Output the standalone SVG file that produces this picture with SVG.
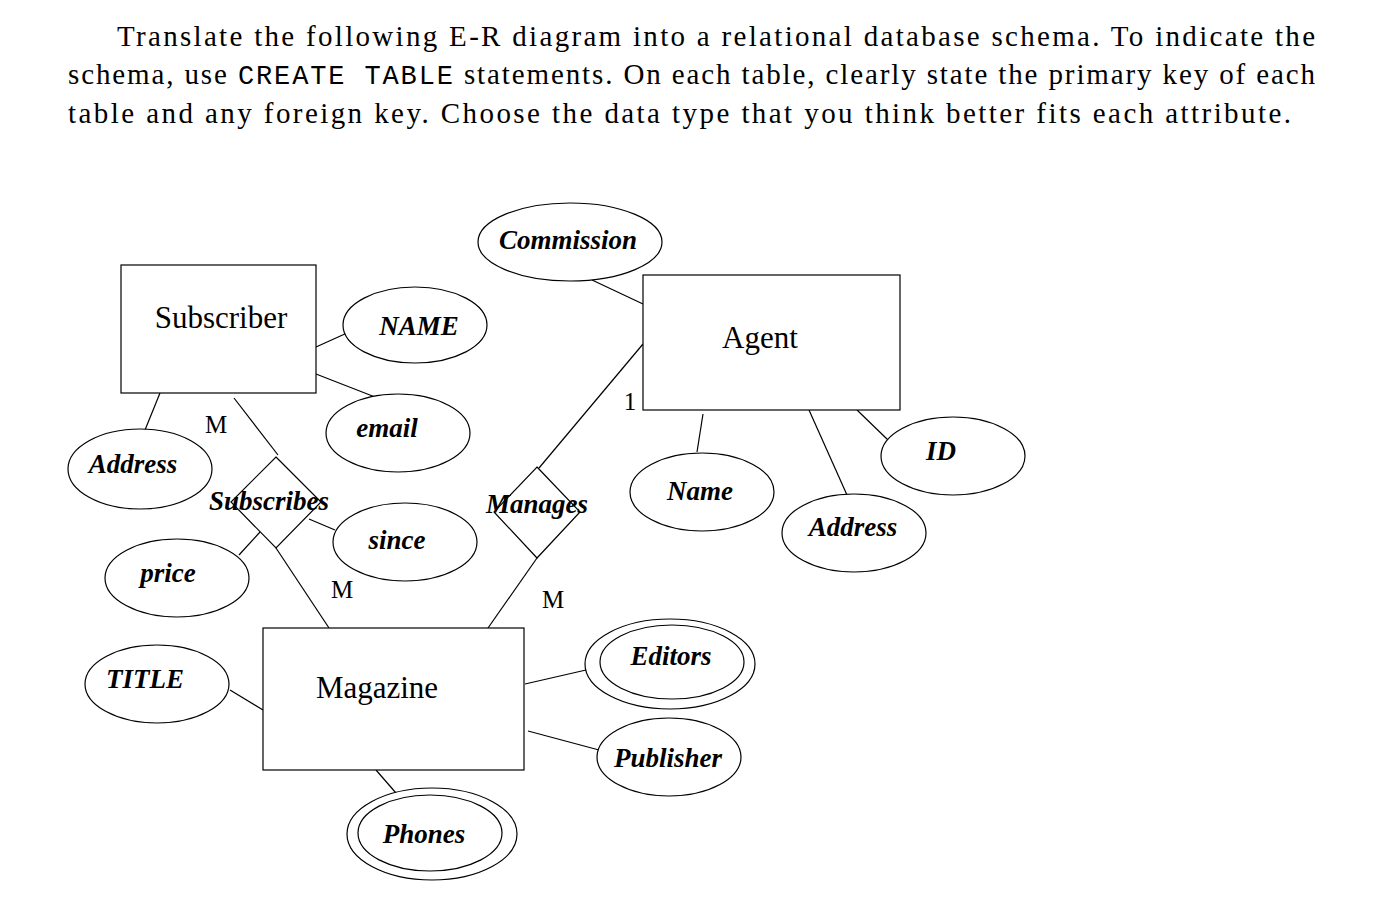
<svg xmlns="http://www.w3.org/2000/svg" width="1374" height="918" viewBox="0 0 1374 918">
<style>
.p{font-family:"Liberation Serif","DejaVu Serif",serif;font-size:29px;fill:#000}
.m{font-family:"Liberation Mono","DejaVu Sans Mono",monospace;font-size:27px}
.e{fill:#fff;stroke:#000;stroke-width:1.2}
.a{font-family:"Liberation Serif",serif;font-size:27px;font-weight:bold;font-style:italic;text-anchor:middle}
.n{font-family:"Liberation Serif",serif;font-size:31px;text-anchor:middle}
.c{font-family:"Liberation Serif",serif;font-size:25px;text-anchor:middle}
#conn line{stroke:#000;stroke-width:1.2}
</style>
<rect width="1374" height="918" fill="#fff"/>
<text class="p" x="117" y="46" textLength="1198" lengthAdjust="spacing">Translate the following E-R diagram into a relational database schema. To indicate the</text>
<text class="p" x="68" y="84" textLength="1247" lengthAdjust="spacing">schema, use <tspan class="m">CREATE TABLE</tspan> statements. On each table, clearly state the primary key of each</text>
<text class="p" x="68" y="123" textLength="1223" lengthAdjust="spacing">table and any foreign key. Choose the data type that you think better fits each attribute.</text>
<g id="conn">
<line x1="316" y1="347" x2="347" y2="333"/>
<line x1="316" y1="374" x2="375" y2="397"/>
<line x1="160" y1="393" x2="145" y2="430"/>
<line x1="234" y1="398" x2="278" y2="455"/>
<line x1="276" y1="548" x2="329" y2="628"/>
<line x1="309" y1="519" x2="335" y2="530"/>
<line x1="260" y1="532" x2="239" y2="555"/>
<line x1="592" y1="280" x2="643" y2="304"/>
<line x1="643" y1="344" x2="539" y2="468"/>
<line x1="537" y1="558" x2="488" y2="628"/>
<line x1="703" y1="414" x2="697" y2="452"/>
<line x1="809" y1="410" x2="847" y2="495"/>
<line x1="857" y1="410" x2="888" y2="440"/>
<line x1="230" y1="690" x2="263" y2="710"/>
<line x1="525" y1="684" x2="586" y2="670"/>
<line x1="528" y1="731" x2="599" y2="750"/>
<line x1="376" y1="770" x2="396" y2="793"/>
<text class="c" x="216" y="433">M</text>
<text class="c" x="342" y="598">M</text>
<text class="c" x="630" y="410">1</text>
<text class="c" x="553" y="608">M</text>
</g>
<g id="subscriber"><rect class="e" x="121" y="265" width="195" height="128"/><text class="n" x="221" y="328">Subscriber</text></g>
<g id="agent"><rect class="e" x="643" y="275" width="257" height="135"/><text class="n" x="760" y="348">Agent</text></g>
<g id="magazine"><rect class="e" x="263" y="628" width="261" height="142"/><text class="n" x="377" y="698">Magazine</text></g>
<g id="subscribes"><polygon class="e" fill="none" style="fill:none" points="276,457 321,502 276,548 231,502"/><text class="a" x="269" y="510">Subscribes</text></g>
<g id="manages"><polygon class="e" style="fill:none" points="537,467 580,512 537,558 494,512"/><text class="a" x="537" y="513">Manages</text></g>
<g id="name"><ellipse class="e" cx="415" cy="325" rx="72" ry="38"/><text class="a" x="419" y="335">NAME</text></g>
<g id="email"><ellipse class="e" cx="398" cy="433" rx="72" ry="39"/><text class="a" x="387" y="437">email</text></g>
<g id="saddress"><ellipse class="e" cx="140" cy="469" rx="72" ry="40"/><text class="a" x="133" y="473">Address</text></g>
<g id="since"><ellipse class="e" cx="405" cy="542" rx="72" ry="39"/><text class="a" x="397" y="549">since</text></g>
<g id="price"><ellipse class="e" cx="177" cy="578" rx="72" ry="39"/><text class="a" x="168" y="582">price</text></g>
<g id="commission"><ellipse class="e" cx="570" cy="242" rx="92" ry="39"/><text class="a" x="568" y="249">Commission</text></g>
<g id="aname"><ellipse class="e" cx="702" cy="492" rx="72" ry="39"/><text class="a" x="700" y="500">Name</text></g>
<g id="aaddress"><ellipse class="e" cx="854" cy="533" rx="72" ry="39"/><text class="a" x="853" y="536">Address</text></g>
<g id="id"><ellipse class="e" cx="953" cy="456" rx="72" ry="39"/><text class="a" x="941" y="460">ID</text></g>
<g id="title"><ellipse class="e" cx="157" cy="684" rx="72" ry="39"/><text class="a" x="145" y="688">TITLE</text></g>
<g id="editors"><ellipse class="e" cx="670" cy="664" rx="85" ry="45"/><ellipse class="e" cx="672" cy="662" rx="72" ry="37"/><text class="a" x="671" y="665">Editors</text></g>
<g id="publisher"><ellipse class="e" cx="669" cy="757" rx="72" ry="39"/><text class="a" x="668" y="767">Publisher</text></g>
<g id="phones"><ellipse class="e" cx="432" cy="834" rx="85" ry="46"/><ellipse class="e" cx="430" cy="833" rx="72" ry="38"/><text class="a" x="424" y="843">Phones</text></g>
</svg>
